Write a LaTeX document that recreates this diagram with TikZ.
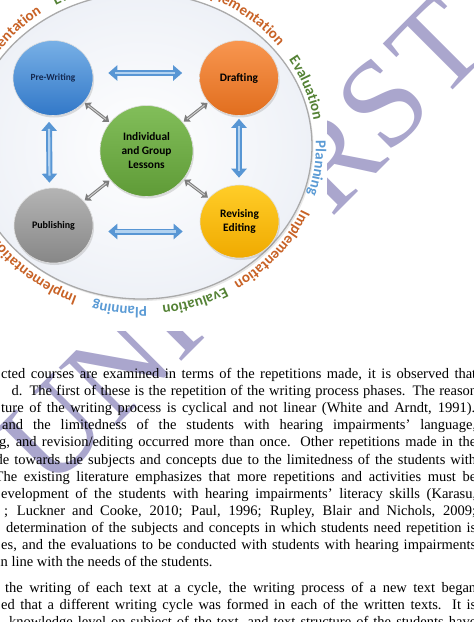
\documentclass[tikz,border=0pt]{standalone}
\usepackage{fontspec}
\setmainfont{Liberation Serif}
\newfontfamily\carlito{Carlito}
\usetikzlibrary{arrows.meta,decorations.text,shadows,shapes.geometric}
\definecolor{wmcol}{RGB}{170,166,205}
\definecolor{implc}{RGB}{200,98,38}
\definecolor{evalc}{RGB}{84,130,53}
\definecolor{planc}{RGB}{91,155,213}
\definecolor{ringc}{RGB}{170,170,170}
\definecolor{bgin}{RGB}{255,255,255}
\definecolor{bgout}{RGB}{238,241,247}
\definecolor{abl}{RGB}{88,150,212}
\definecolor{ablin}{RGB}{178,210,240}
\definecolor{agr}{RGB}{125,125,125}
\definecolor{agrin}{RGB}{205,205,205}
\definecolor{pwA}{RGB}{120,176,230}\definecolor{pwB}{RGB}{50,120,200}
\definecolor{drA}{RGB}{248,150,80}\definecolor{drB}{RGB}{225,110,30}
\definecolor{igA}{RGB}{130,190,90}\definecolor{igB}{RGB}{95,155,55}
\definecolor{puA}{RGB}{180,180,180}\definecolor{puB}{RGB}{135,135,135}
\definecolor{reA}{RGB}{255,205,40}\definecolor{reB}{RGB}{240,170,0}
\definecolor{navyt}{RGB}{20,40,80}
\newcommand\arcfont{\carlito\bfseries\fontsize{15pt}{15pt}\selectfont}
\newcommand\arclabel[3]{%
  \path[decorate,decoration={text along path,text color=#2,text align=center,
    text={|\arcfont|#3}}]
    (bc) ++(#1+24:175pt and 161pt) arc[start angle=#1+24,end angle=#1-24,x radius=175pt,y radius=161pt];}
\tikzset{
  para/.style={anchor=base west,inner sep=0pt,font=\fontsize{14.5pt}{17.1pt}\selectfont},
  wm/.style={rotate=45,text=wmcol,inner sep=0pt,font=\fontsize{125pt}{125pt}\selectfont},
  bub/.style={ellipse,minimum width=79pt,minimum height=75pt,inner sep=0pt,align=center,
    draw=white!75!gray,line width=0.6pt,
    font=\carlito\bfseries\fontsize{11.4pt}{14pt}\selectfont,
    drop shadow={opacity=0.25,shadow xshift=1pt,shadow yshift=-2pt}},
  bluearr/.style 2 args={draw=abl,line width=6pt,
    {Triangle[width=15pt,length=9pt]}-{Triangle[width=15pt,length=9pt]},
    shorten <=#1,shorten >=#2,
    postaction={draw=ablin,line width=2.2pt,-,shorten <=#1+7pt,shorten >=#2+7pt}},
  grayarr/.style={draw=agr,line width=3pt,
    {Triangle[width=8.5pt,length=5.5pt]}-{Triangle[width=8.5pt,length=5.5pt]},
    shorten <=1pt,shorten >=1pt,
    postaction={draw=agrin,line width=1pt,-,shorten <=5pt,shorten >=5pt}}
}
\begin{document}
\begin{tikzpicture}[x=1pt,y=1pt]
\useasboundingbox (0,0) rectangle (474,-622);
\begin{scope}
\clip (0,0) rectangle (474,-622);
\fill[white] (0,0) rectangle (474,-622);
% watermark letters
\node[wm] (wU) at (53,-432) {U};
\node[wm] (wN) at (117,-368) {N};
\node[wm] (wI) at (164,-321) {I};
\node[wm] (wR) at (332,-160) {R};
\node[wm] (wS) at (383,-103) {S};
\node[wm] (wT) at (438,-48) {T};
% paragraph
\node[para] (l1) at (1,-378.5) {\makebox[475pt][s]{cted courses are examined in terms of the repetitions made, it is observed that}};
\node[para] (l2) at (11.5,-395.6) {\makebox[465.5pt][s]{d. The first of these is the repetition of the writing process phases. The reason}};
\node[para] (l3) at (1,-412.7) {\makebox[474pt][s]{ture of the writing process is cyclical and not linear (White and Arndt, 1991).}};
\node[para] (l4) at (2,-429.8) {\makebox[474pt][s]{and the limitedness of the students with hearing impairments’ language,}};
\node[para] (l5) at (-1,-446.9) {\makebox[477pt][s]{g, and revision/editing occurred more than once. Other repetitions made in the}};
\node[para] (l6) at (-4.5,-464.0) {\makebox[480.5pt][s]{de towards the subjects and concepts due to the limitedness of the students with}};
\node[para] (l7) at (-5.5,-481.1) {\makebox[481.5pt][s]{The existing literature emphasizes that more repetitions and activities must be}};
\node[para] (l8) at (1,-498.2) {\makebox[475pt][s]{evelopment of the students with hearing impairments’ literacy skills (Karasu,}};
\node[para] (l9) at (4,-515.3) {\makebox[472pt][s]{; Luckner and Cooke, 2010; Paul, 1996; Rupley, Blair and Nichols, 2009;}};
\node[para] (l10) at (6,-532.4) {\makebox[470pt][s]{determination of the subjects and concepts in which students need repetition is}};
\node[para] (l11) at (1,-549.5) {\makebox[475pt][s]{es, and the evaluations to be conducted with students with hearing impairments}};
\node[para] (l12) at (-3.5,-566.6) {in line with the needs of the students.};
\node[para] (l13) at (5,-592.6) {\makebox[471pt][s]{the writing of each text at a cycle, the writing process of a new text began}};
\node[para] (l14) at (1,-609.7) {\makebox[475pt][s]{ed that a different writing cycle was formed in each of the written texts. It is}};
\node[para] (l15) at (9,-626.8) {\makebox[467pt][s]{knowledge level on subject of the text, and text structure of the students have}};
% figure
\fill[white] (0,0) rectangle (327,-331);
\coordinate (bc) at (141,-146);
\node[ellipse,minimum width=342pt,minimum height=306pt,inner sep=0pt,draw=ringc,line width=1.3pt,
  inner color=bgin,outer color=bgout,
  drop shadow={opacity=0.18,shadow xshift=1.5pt,shadow yshift=-2pt}] (big) at (bc) {};
\arclabel{142}{implc}{Implementation}
\arclabel{108.5}{evalc}{Evaluation}
\arclabel{82}{planc}{Planning}
\arclabel{55}{implc}{Implementation}
\arclabel{20.5}{evalc}{Evaluation}
\arclabel{-7.7}{planc}{Planning}
\arclabel{-40.5}{implc}{Implementation}
\arclabel{-72}{evalc}{Evaluation}
\arclabel{-97}{planc}{Planning}
\arclabel{-128.5}{implc}{Implementation}
\arclabel{-160}{evalc}{Evaluation}
\arclabel{-186}{planc}{Planning}
\node[bub,minimum width=80pt,top color=pwA,bottom color=pwB,text=navyt] (pw) at (53,-78) {\fontsize{9.4pt}{11pt}\selectfont Pre-Writing};
\node[bub,top color=drA,bottom color=drB] (dr) at (239,-78) {Drafting};
\node[bub,minimum width=93pt,minimum height=91pt,top color=igA,bottom color=igB] (ig) at (146.5,-151) {Individual\\and Group\\Lessons};
\node[bub,top color=puA,bottom color=puB] (pub) at (53.5,-225.5) {\fontsize{10pt}{12pt}\selectfont Publishing};
\node[bub,minimum height=73pt,top color=reA,bottom color=reB] (rev) at (239.5,-221.5) {Revising\\Editing};
\draw[bluearr={15pt}{17pt}] ([yshift=5pt]pw.east) -- ([yshift=5pt]pw.east -| dr.west);
\draw[bluearr={15pt}{17pt}] ([yshift=-6pt]pub.east) -- ([yshift=-6pt]pub.east -| rev.west);
\draw[bluearr={6pt}{5pt}] ([xshift=-4pt]pw.south) -- ([xshift=-4pt]pub.north);
\draw[bluearr={3pt}{7pt}] (dr.south) -- (dr.south |- rev.north);
\draw[grayarr] (pw) -- (ig);
\draw[grayarr] (dr) -- (ig);
\draw[grayarr] (pub) -- (ig);
\draw[grayarr] (rev) -- (ig);
\end{scope}
\end{tikzpicture}
\end{document}
